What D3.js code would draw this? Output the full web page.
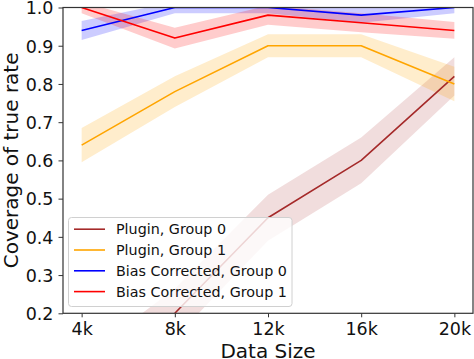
<!DOCTYPE html>
<html><head><meta charset="utf-8">
<script src="https://cdn.jsdelivr.net/npm/d3@7"></script>
<style>
html,body{margin:0;padding:0;background:#fff;}
svg{display:block;font-family:"DejaVu Sans",sans-serif;}
</style></head><body>
<svg id="c" width="474" height="359"></svg>
<script>
const sizes = [4000, 8000, 12000, 16000, 20000];
const xTickLabels = ["4k", "8k", "12k", "16k", "20k"];
const yTicks = [0.2, 0.3, 0.4, 0.5, 0.6, 0.7, 0.8, 0.9, 1.0];

const seriesNames = ["Plugin, Group 0", "Plugin, Group 1", "Bias Corrected, Group 0", "Bias Corrected, Group 1"];
const seriesColors = ["#a52a2a", "#ffa500", "#0000ff", "#ff0000"];
const bandOpacity = [0.16, 0.2, 0.2, 0.2];

const plugin0 = [0.02, 0.20, 0.45, 0.60, 0.82];
const plugin0Lo = [-0.04, 0.135, 0.39, 0.54, 0.77];
const plugin0Hi = [0.08, 0.265, 0.51, 0.66, 0.87];

const plugin1 = [0.64, 0.78, 0.90, 0.90, 0.80];
const plugin1Lo = [0.595, 0.74, 0.87, 0.87, 0.755];
const plugin1Hi = [0.685, 0.82, 0.93, 0.93, 0.845];

const bias0 = [0.94, 1.00, 1.00, 0.98, 1.00];
const bias0Lo = [0.915, 0.985, 0.985, 0.96, 0.985];
const bias0Hi = [0.965, 1.015, 1.015, 1.00, 1.015];

const bias1 = [1.00, 0.92, 0.98, 0.96, 0.94];
const bias1Lo = [0.985, 0.893, 0.955, 0.935, 0.918];
const bias1Hi = [1.015, 0.947, 1.005, 0.985, 0.962];

const svg = d3.select("#c");
const L = 63, R = 473, T = 7.5, B = 313.3;
const x = d3.scaleLinear().domain([3200, 20800]).range([L, R]);
const y = d3.scaleLinear().domain([0.2, 1.0]).range([B, T]);

svg.append("defs").append("clipPath").attr("id","clip")
  .append("rect").attr("x",L).attr("y",T).attr("width",R-L).attr("height",B-T);

const series = [
  {v: plugin0, lo: plugin0Lo, hi: plugin0Hi},
  {v: plugin1, lo: plugin1Lo, hi: plugin1Hi},
  {v: bias0, lo: bias0Lo, hi: bias0Hi},
  {v: bias1, lo: bias1Lo, hi: bias1Hi}
];

const g = svg.append("g").attr("clip-path","url(#clip)");
const area = d3.area().x((d,i)=>x(sizes[i])).y0(d=>y(d[0])).y1(d=>y(d[1]));
const line = d3.line().x((d,i)=>x(sizes[i])).y(d=>y(d));

series.forEach((s,k)=>{
  g.append("path").datum(s.lo.map((l,i)=>[l,s.hi[i]]))
    .attr("d",area).attr("fill",seriesColors[k]).attr("fill-opacity",bandOpacity[k]).attr("stroke","none");
});
series.forEach((s,k)=>{
  g.append("path").datum(s.v).attr("d",line).attr("fill","none")
    .attr("stroke",seriesColors[k]).attr("stroke-width",1.6).attr("stroke-linejoin","round");
});

// axes
const xAxis = svg.append("g").attr("transform",`translate(0,${B})`)
  .call(d3.axisBottom(x).tickValues(sizes).tickFormat((d,i)=>xTickLabels[i]).tickSize(4).tickPadding(4));
const yAxis = svg.append("g").attr("transform",`translate(${L},0)`)
  .call(d3.axisLeft(y).tickValues(yTicks).tickFormat(d3.format(".1f")).tickSize(4.5).tickPadding(5));
[xAxis,yAxis].forEach(a=>{
  a.select(".domain").remove();
  a.selectAll(".tick line").attr("stroke","#333").attr("stroke-width",1);
  a.selectAll(".tick text").attr("fill","#111").style("font-size","17.5px").style("font-family","DejaVu Sans");
});
xAxis.selectAll(".tick text").attr("dy",null).attr("y",22);
yAxis.selectAll(".tick text").attr("dy","0.36em");

// spines
svg.append("rect").attr("x",L).attr("y",T).attr("width",R-L).attr("height",B-T)
  .attr("fill","none").attr("stroke","#333").attr("stroke-width",1.2);

// labels
svg.append("text").attr("x",(L+R)/2).attr("y",357.5).attr("text-anchor","middle")
  .style("font-size","20px").attr("fill","#111").text("Data Size");
svg.append("text").attr("transform",`translate(17.5,${(T+B)/2}) rotate(-90)`).attr("text-anchor","middle")
  .style("font-size","20px").attr("fill","#111").text("Coverage of true rate");

// legend
const lg = svg.append("g");
lg.append("rect").attr("x",68.5).attr("y",217.5).attr("width",223.5).attr("height",89).attr("rx",3)
  .attr("fill","#fff").attr("fill-opacity",0.8).attr("stroke","#d0d0d0").attr("stroke-width",1);
seriesNames.forEach((n,k)=>{
  const cy = 229.2 + k*20.8;
  lg.append("line").attr("x1",74).attr("x2",105).attr("y1",cy).attr("y2",cy)
    .attr("stroke",seriesColors[k]).attr("stroke-width",1.6);
  lg.append("text").attr("x",116).attr("y",cy).attr("dy","0.36em").style("font-size","14.3px")
    .attr("fill","#111").text(n);
});
</script>
</body></html>
